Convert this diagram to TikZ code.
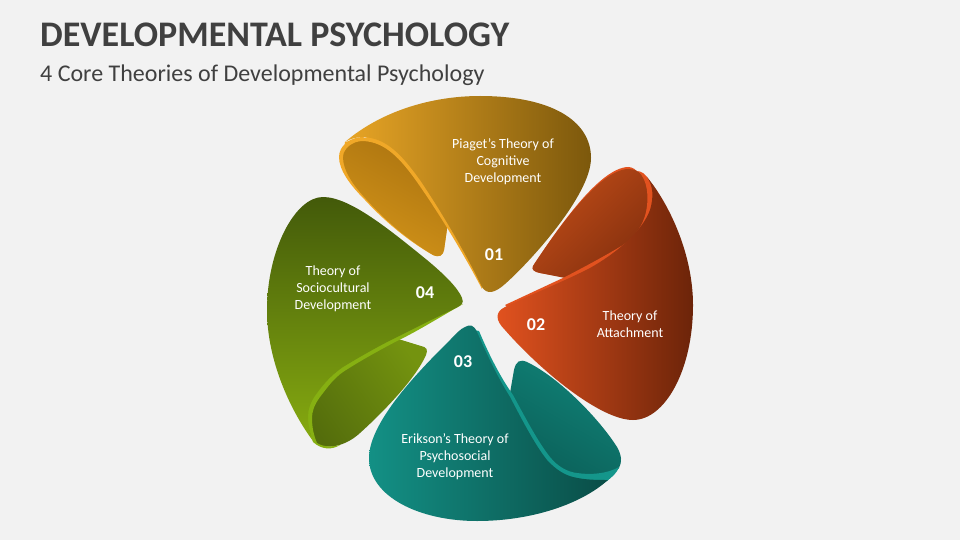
\documentclass[tikz,border=0pt]{standalone}
\usepackage{fontspec}
\setmainfont{Carlito}
\definecolor{bgc}{HTML}{F2F2F2}
\definecolor{inkc}{HTML}{404040}
\definecolor{aL}{HTML}{E8A526}\definecolor{aR}{HTML}{7C580C}\definecolor{aRim}{HTML}{F0A828}\definecolor{aF1}{HTML}{D39419}\definecolor{aF2}{HTML}{AC7410}
\definecolor{bL}{HTML}{E2521F}\definecolor{bR}{HTML}{6C2409}\definecolor{bRim}{HTML}{E2521F}\definecolor{bF1}{HTML}{C04C18}\definecolor{bF2}{HTML}{85300E}
\definecolor{cL}{HTML}{139085}\definecolor{cR}{HTML}{0A4D47}\definecolor{cRim}{HTML}{14968B}\definecolor{cF1}{HTML}{108277}\definecolor{cF2}{HTML}{0B5F58}
\definecolor{dT}{HTML}{435A0A}\definecolor{dB}{HTML}{86AA10}\definecolor{dRim}{HTML}{86B012}\definecolor{dF1}{HTML}{74930F}\definecolor{dF2}{HTML}{546D0C}
\tikzset{
  lbl/.style={text=white,align=center,inner sep=0pt,font=\fontsize{14}{17}\selectfont},
  num/.style={text=white,inner sep=0pt,font=\bfseries\fontsize{18}{20}\selectfont},
}
\begin{document}
\begin{tikzpicture}[x=1pt,y=-1pt]
\useasboundingbox (0,0) rectangle (960,540);
\fill[bgc] (0,0) rectangle (960,540);
\node[anchor=base west,inner sep=0pt,text=inkc,font=\bfseries\fontsize{36}{40}\selectfont] (title) at (40,47) {DEVELOPMENTAL PSYCHOLOGY};
\node[anchor=base west,inner sep=0pt,text=inkc,font=\fontsize{24}{28}\selectfont] (subtitle) at (40,81.5) {4 Core Theories of Developmental Psychology};

% 01 flap
\fill[aRim] (339,157) .. controls (339,170) and (350,185) .. (365,200) .. controls (390,227) and (415,245) .. (433,255) .. controls (440,258) and (443,255) .. (444,250) -- (448,222) -- (420,175) -- (363,137) .. controls (350,137) and (339,146) .. (339,157) -- cycle;
\shade[top color=aF2,bottom color=aF1,shading angle=-30] (343,157) .. controls (343,170) and (352,184) .. (366,199) .. controls (390,226) and (415,244) .. (433,255) .. controls (440,258) and (443,255) .. (444,250) -- (448,222) -- (430,185) -- (410,165) .. controls (400,150) and (385,139) .. (363,139) .. controls (352,139) and (343,149) .. (343,157) -- cycle;
% 01 rim + body
\fill[aRim] (345,142) -- (343,157) .. controls (343,149) and (352,141) .. (363,141) .. controls (385,142) and (400,158) .. (417,182) .. controls (445,222) and (468,262) .. (482,289) -- (500,200) -- (400,130) -- cycle;
\shade[left color=aL,right color=aR] (345,142) .. controls (380,112) and (430,96) .. (480,96) .. controls (550,96) and (591,120) .. (591,158) .. controls (591,195) and (530,262) .. (505,284) .. controls (495,293) and (487,295) .. (482,287) .. controls (470,262) and (447,220) .. (420,180) .. controls (400,152) and (385,138) .. (363,137) .. controls (356,137) and (350,139) .. (345,142) -- cycle;

% 02 flap
\fill[bRim] (533,266) .. controls (531,270) and (535,272) .. (540,273) -- (563,277) -- (575,270) -- (640,175) .. controls (636,169) and (632,167) .. (628,167) .. controls (600,168) and (560,225) .. (533,266) -- cycle;
\shade[top color=bF1,bottom color=bF2,shading angle=45] (533,266) .. controls (531,270) and (535,272) .. (540,273) -- (565,278) -- (600,275) -- (650,230) -- (650,190) .. controls (648,178) and (640,169) .. (628,169) .. controls (600,170) and (560,225) .. (533,266) -- cycle;
% 02 rim + body
\fill[bRim] (505,305) -- (565,277) .. controls (590,264) and (610,253) .. (623,245) .. controls (636,236) and (643,225) .. (646,212) .. controls (649,198) and (648,180) .. (638,171) .. controls (642,172) and (645,174) .. (647,177) -- (656,190) -- (670,260) -- (520,320) -- cycle;
\shade[left color=bL,right color=bR] (647,177) .. controls (670,205) and (693,255) .. (693,305) .. controls (693,370) and (665,420) .. (633,420) .. controls (600,420) and (540,370) .. (505,330) .. controls (495,320) and (495,312) .. (505,307) .. controls (530,295) and (567,280) .. (590,268) .. controls (615,254) and (642,232) .. (650,210) .. controls (654,196) and (653,186) .. (647,177) -- cycle;

% 03 flap
\shade[top color=cF1,bottom color=cF2,shading angle=-30] (510,393) -- (514,370) .. controls (516,361) and (520,359) .. (527,362) .. controls (560,378) and (600,420) .. (617,447) .. controls (622,456) and (622,462) .. (619,468) -- (607,480) -- (570,485) -- (530,460) -- cycle;
% 03 rim + body
\fill[cRim] (479,331) .. controls (490,357) and (501,378) .. (513,395) .. controls (525,417) and (538,442) .. (550,457) .. controls (558,467) and (568,472) .. (577,473) .. controls (590,475) and (607,474) .. (619,467) .. controls (617,473) and (612,477) .. (607,481) -- (560,490) -- (500,400) -- (474,330) -- cycle;
\shade[left color=cL,right color=cR] (465,327) .. controls (470,324) and (474,325) .. (477,332) .. controls (488,357) and (498,378) .. (510,397) .. controls (522,420) and (535,445) .. (547,460) .. controls (556,470) and (565,475) .. (573,477) .. controls (585,480) and (597,480) .. (608,480) .. controls (580,505) and (530,521) .. (477,521) .. controls (420,521) and (369,497) .. (369,458) .. controls (369,420) and (425,365) .. (450,340) .. controls (456,334) and (460,329) .. (465,327) -- cycle;

% 04 flap
\shade[top color=dF1,bottom color=dF2,shading angle=-55] (395,338) -- (421,346) .. controls (427,347) and (428,350) .. (426,355) .. controls (415,380) and (380,415) .. (360,433) .. controls (345,447) and (325,450) .. (316,443) -- (300,420) -- (300,385) -- (370,345) -- cycle;
% 04 rim + body
\fill[dRim] (463,304) .. controls (440,317) and (418,331) .. (397,341) .. controls (378,351) and (360,361) .. (343,372) .. controls (333,379) and (327,388) .. (320,397) .. controls (314,405) and (312,412) .. (312,418) .. controls (312,428) and (314,436) .. (317,443) .. controls (323,447) and (332,447) .. (340,445) .. controls (332,450) and (322,450) .. (313,442) -- (300,400) -- (400,320) -- cycle;
\shade[top color=dT,bottom color=dB] (323,197) .. controls (350,197) and (390,230) .. (427,260) .. controls (445,275) and (458,288) .. (462,298) .. controls (464,303) and (462,305) .. (456,308) .. controls (435,318) and (415,328) .. (395,338) .. controls (375,348) and (358,358) .. (343,367) .. controls (330,376) and (323,385) .. (317,393) .. controls (310,402) and (308,410) .. (308,417) .. controls (308,425) and (310,433) .. (313,441) .. controls (290,410) and (267,360) .. (267,310) .. controls (267,250) and (295,197) .. (323,197) -- cycle;

\node[lbl] (t1) at (503,162) {Piaget's Theory of\\Cognitive\\Development};
\node[num] (n1) at (494,254.5) {01};
\node[lbl] (t2) at (630,324) {Theory of\\Attachment};
\node[num] (n2) at (536,324.5) {02};
\node[lbl] (t3) at (455,456.5) {Erikson's Theory of\\Psychosocial\\Development};
\node[num] (n3) at (463,361.5) {03};
\node[lbl] (t4) at (333,289) {Theory of\\Sociocultural\\Development};
\node[num] (n4) at (425,292.5) {04};
\end{tikzpicture}
\end{document}
